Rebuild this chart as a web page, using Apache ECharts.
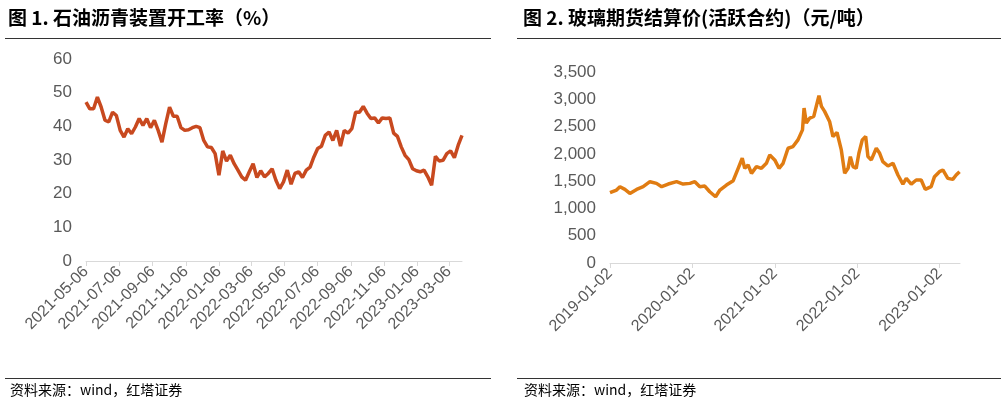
<!DOCTYPE html>
<html><head><meta charset="utf-8">
<script src="https://cdn.jsdelivr.net/npm/echarts@6/dist/echarts.min.js"></script>
<style>html,body{margin:0;padding:0;background:#fff}#c{width:1004px;height:406px}</style>
</head><body><div id="c"></div>
<script>
// 图1 周度开工率（%），自 2021-05-06 起每周一个点
var leftStart = '2021-05-06';
var leftValues = [47.2,45.2,45.2,48.7,45.7,41.8,41.3,44.2,43.2,38.8,36.8,39.3,37.8,39.8,42.3,40.3,42.3,39.6,41.8,38.8,
  35.3,40.8,45.7,43,43,39.6,38.8,39,39.6,40,39.6,35.8,33.9,33.7,31.9,25.5,32.7,29.7,31.4,28.9,
  27,25,24,26.5,28.9,24.8,26.8,25,26,27.4,24,21.5,23.5,27,22.8,26,26.5,24.8,27,27.9,
  30.9,33.4,34.1,37.3,38.3,35.8,38.8,34.1,38.8,38,39.3,44.2,44.2,45.9,43.9,42.3,42.5,41,42.5,42.3,
  42.5,38,37,33.9,31.4,30.1,27.4,26.8,26.5,27,25,22.5,31.1,29.7,29.9,31.9,32.7,30.7,34.4,37.3];
var leftTicks = ['2021-05-06','2021-07-06','2021-09-06','2021-11-06','2022-01-06','2022-03-06',
  '2022-05-06','2022-07-06','2022-09-06','2022-11-06','2023-01-06','2023-03-06'];

// 图2 玻璃期货结算价（元/吨）
var rightDates = ['2019-01-02','2019-01-31','2019-02-15','2019-03-09','2019-03-31','2019-04-30','2019-05-29','2019-06-28',
  '2019-07-27','2019-08-19','2019-09-17','2019-10-24','2019-11-22','2019-12-22','2020-01-13','2020-02-04','2020-02-26',
  '2020-03-19','2020-04-14','2020-05-03','2020-06-01','2020-07-01','2020-07-23','2020-08-10','2020-08-21','2020-09-05',
  '2020-09-20','2020-10-12','2020-11-03','2020-11-25','2020-12-10','2021-01-01','2021-01-20','2021-02-07','2021-03-01',
  '2021-03-23','2021-04-14','2021-05-04','2021-05-11','2021-05-21','2021-06-05','2021-06-23','2021-07-04','2021-07-16',
  '2021-07-27','2021-08-10','2021-09-01','2021-09-16','2021-10-04','2021-10-23','2021-11-07','2021-11-22','2021-12-02',
  '2021-12-14','2021-12-28','2022-01-09','2022-01-24','2022-02-08','2022-02-18','2022-03-05','2022-03-27','2022-04-11',
  '2022-04-25','2022-05-18','2022-06-09','2022-07-01','2022-07-23','2022-08-07','2022-08-29','2022-09-20','2022-10-12',
  '2022-10-30','2022-11-25','2022-12-10','2023-01-01','2023-01-16','2023-02-07','2023-03-01','2023-03-16','2023-03-31'];
var rightValues = [1288,1337,1398,1349,1275,1349,1398,1490,1459,1398,1447,1490,1447,1459,1490,1398,1410,
  1306,1214,1337,1429,1508,1735,1919,1735,1797,1643,1766,1735,1827,1980,1889,1735,1827,2103,
  2134,2256,2440,2839,2563,2655,2686,2870,3066,2870,2778,2594,2318,2391,2072,1643,1735,1950,
  1766,1735,2011,2256,2318,1950,1889,2103,2011,1858,1778,1827,1613,1447,1551,1447,1521,1521,
  1349,1398,1582,1674,1705,1551,1533,1613,1674];
var rightTicks = ['2019-01-02','2020-01-02','2021-01-02','2022-01-02','2023-01-02'];

function ts(s) { return new Date(s + 'T00:00:00Z').getTime(); }
function fmt(v) { return new Date(v).toISOString().slice(0, 10); }

var t0 = ts(leftStart);
var leftData = leftValues.map(function (v, i) { return [t0 + i * 7 * 86400000, v]; });
var rightData = rightDates.map(function (d, i) { return [ts(d), rightValues[i]]; });

var gray = '#595959';
function xAxisFor(idx, min, max, ticks) {
  var vals = ticks.map(ts);
  return {
    type: 'value', gridIndex: idx, min: ts(min), max: ts(max), scale: true,
    axisLine: { lineStyle: { color: '#d9d9d9' } },
    axisTick: { show: true, customValues: vals, length: 5, lineStyle: { color: '#d9d9d9' } },
    axisLabel: { customValues: vals, rotate: 45, color: gray, fontSize: 16, fontFamily: 'Liberation Sans', formatter: fmt, margin: 8 },
    splitLine: { show: false }
  };
}
function yAxisFor(idx, max, interval, comma) {
  return {
    type: 'value', gridIndex: idx, min: 0, max: max, interval: interval,
    axisLine: { show: false }, axisTick: { show: false }, splitLine: { show: false },
    axisLabel: { color: gray, fontSize: 17, fontFamily: 'Liberation Sans', margin: 14,
      formatter: function (v) { return comma ? v.toLocaleString('en-US') : v; } }
  };
}

var chart = echarts.init(document.getElementById('c'));
chart.setOption({
  animation: false,
  grid: [
    { left: 86, top: 59, width: 376, height: 202 },
    { left: 610, top: 72, width: 350, height: 191 }
  ],
  xAxis: [
    xAxisFor(0, '2021-05-06', '2023-03-30', leftTicks),
    xAxisFor(1, '2019-01-02', '2023-04-02', rightTicks)
  ],
  yAxis: [yAxisFor(0, 60, 10, false), yAxisFor(1, 3500, 500, true)],
  series: [
    { type: 'line', xAxisIndex: 0, yAxisIndex: 0, data: leftData, showSymbol: false,
      lineStyle: { color: '#c8491f', width: 3.5 } },
    { type: 'line', xAxisIndex: 1, yAxisIndex: 1, data: rightData, showSymbol: false,
      lineStyle: { color: '#e07c12', width: 3.5 } }
  ],
  graphic: [
    { type: 'text', left: 8, top: 8, style: { text: '图 1. 石油沥青装置开工率（%）', font: 'bold 19px "Noto Sans CJK SC"', fill: '#000' } },
    { type: 'text', left: 523, top: 8, style: { text: '图 2. 玻璃期货结算价(活跃合约)（元/吨）', font: 'bold 19px "Noto Sans CJK SC"', fill: '#000' } },
    { type: 'rect', shape: { x: 5, y: 38, width: 486, height: 1 }, style: { fill: '#333' } },
    { type: 'rect', shape: { x: 517, y: 38, width: 484, height: 1 }, style: { fill: '#333' } },
    { type: 'rect', shape: { x: 5, y: 378, width: 486, height: 1 }, style: { fill: '#333' } },
    { type: 'rect', shape: { x: 517, y: 378, width: 484, height: 1 }, style: { fill: '#333' } },
    { type: 'text', left: 10, top: 383, style: { text: '资料来源：wind，红塔证券', font: '14px "Noto Sans CJK SC"', fill: '#000' } },
    { type: 'text', left: 524, top: 383, style: { text: '资料来源：wind，红塔证券', font: '14px "Noto Sans CJK SC"', fill: '#000' } }
  ]
});
</script></body></html>
